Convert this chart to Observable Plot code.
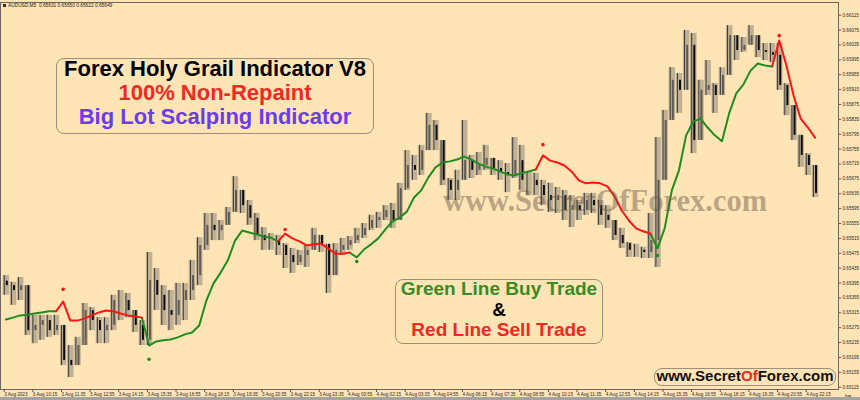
<!DOCTYPE html>
<html>
<head>
<meta charset="utf-8">
<script src="https://cdn.jsdelivr.net/npm/d3@7"></script>
<script src="https://cdn.jsdelivr.net/npm/@observablehq/plot@0.6"></script>
<style>
html,body{margin:0;padding:0;background:#FFE4B5;}
#wrap{position:relative;width:860px;height:400px;overflow:hidden;background:#FFE4B5;font-family:"Liberation Sans",Arial,sans-serif;}
#wrap svg{position:absolute;left:0;top:0;}
.ov{position:absolute;white-space:nowrap;}
.box{position:absolute;border:1px solid #9c8f7b;border-radius:8px;box-sizing:border-box;}
.lines{position:absolute;text-align:center;font-weight:bold;white-space:nowrap;}
</style>
</head>
<body>
<div id="wrap"></div>
<script>
// ---------- data ----------
const symbolHeader = "AUDUSD,M5  0.65631 0.65650 0.65622 0.65649";
const timeLabels = ["3 Aug 2023","3 Aug 10:15","3 Aug 11:35","3 Aug 12:55","3 Aug 14:15","3 Aug 15:35","3 Aug 16:55","3 Aug 18:15","3 Aug 19:35","3 Aug 20:55","3 Aug 22:15","3 Aug 23:35","4 Aug 00:55","4 Aug 02:15","4 Aug 03:35","4 Aug 04:55","4 Aug 06:15","4 Aug 07:35","4 Aug 08:55","4 Aug 10:15","4 Aug 11:35","4 Aug 12:55","4 Aug 14:15","4 Aug 15:35","4 Aug 16:55","4 Aug 18:15","4 Aug 19:35","4 Aug 20:55","4 Aug 22:15"];
const barsPerLabel = 16;   // M5 bars between time labels
const barsPerCandle = 4;   // each drawn candle groups 4 M5 bars
const priceTicks = [0.66115,0.66075,0.66035,0.65995,0.65955,0.65915,0.65875,0.65835,0.65795,0.65755,0.65715,0.65675,0.65635,0.65595,0.65555,0.65515,0.65475,0.65435,0.65395,0.65355,0.65315,0.65275,0.65235,0.65195,0.65155,0.65115];

const firstOpen = 0.65400;
const highs = [0.65415,0.65397,0.65410,0.65348,0.65308,0.65308,0.65308,0.65308,0.65254,0.65227,
0.65249,0.65340,0.65329,0.65302,0.65302,0.65362,0.65375,0.65367,0.65313,0.65294,
0.65477,0.65434,0.65388,0.65375,0.65394,0.65394,0.65456,0.65517,0.65582,0.65582,
0.65563,0.65598,0.65681,0.65644,0.65617,0.65582,0.65544,0.65528,0.65523,0.65501,
0.65488,0.65483,0.65496,0.65542,0.65520,0.65496,0.65501,0.65515,0.65520,0.65542,
0.65555,0.65577,0.65585,0.65603,0.65609,0.65663,0.65751,0.65738,0.65765,0.65851,
0.65832,0.65770,0.65676,0.65698,0.65832,0.65738,0.65746,0.65765,0.65730,0.65724,
0.65716,0.65786,0.65765,0.65692,0.65690,0.65671,0.65663,0.65652,0.65644,0.65630,
0.65617,0.65636,0.65636,0.65617,0.65603,0.65563,0.65542,0.65504,0.65499,0.65491,
0.65582,0.65786,0.65859,0.65974,0.65958,0.66074,0.66066,0.65940,0.65993,0.65931,
0.65974,0.66087,0.66055,0.66055,0.66087,0.66055,0.66039,0.66039,0.66039,0.65931,
0.65859,0.65778,0.65743,0.65684];
const lows = [0.65362,0.65335,0.65348,0.65254,0.65232,0.65241,0.65249,0.65254,0.65173,0.65141,
0.65195,0.65276,0.65267,0.65232,0.65232,0.65267,0.65294,0.65302,0.65262,0.65227,
0.65227,0.65321,0.65281,0.65267,0.65281,0.65294,0.65348,0.65388,0.65483,0.65509,
0.65509,0.65550,0.65590,0.65582,0.65550,0.65509,0.65483,0.65483,0.65469,0.65434,
0.65421,0.65442,0.65437,0.65483,0.65477,0.65367,0.65429,0.65469,0.65483,0.65501,
0.65515,0.65536,0.65542,0.65563,0.65542,0.65571,0.65644,0.65671,0.65684,0.65765,
0.65751,0.65657,0.65617,0.65617,0.65684,0.65676,0.65684,0.65698,0.65684,0.65671,
0.65638,0.65676,0.65644,0.65630,0.65630,0.65603,0.65585,0.65582,0.65563,0.65544,
0.65563,0.65577,0.65582,0.65550,0.65542,0.65509,0.65488,0.65464,0.65464,0.65461,
0.65461,0.65437,0.65724,0.65845,0.65851,0.65966,0.65743,0.65832,0.65899,0.65851,
0.65905,0.66020,0.65993,0.66015,0.66034,0.66001,0.65993,0.65988,0.65913,0.65845,
0.65778,0.65706,0.65684,0.65625];
const closes = [0.65388,0.65375,0.65388,0.65267,0.65281,0.65294,0.65267,0.65281,0.65187,0.65173,
0.65227,0.65321,0.65294,0.65267,0.65281,0.65348,0.65348,0.65321,0.65281,0.65241,
0.65402,0.65362,0.65321,0.65308,0.65348,0.65375,0.65415,0.65496,0.65550,0.65536,
0.65550,0.65585,0.65644,0.65603,0.65569,0.65523,0.65509,0.65509,0.65496,0.65469,
0.65450,0.65469,0.65483,0.65523,0.65499,0.65415,0.65483,0.65496,0.65509,0.65523,
0.65542,0.65563,0.65571,0.65590,0.65563,0.65649,0.65711,0.65698,0.65751,0.65819,
0.65778,0.65671,0.65644,0.65671,0.65724,0.65698,0.65711,0.65730,0.65703,0.65692,
0.65684,0.65724,0.65671,0.65671,0.65657,0.65630,0.65617,0.65630,0.65590,0.65603,
0.65590,0.65617,0.65603,0.65577,0.65563,0.65523,0.65501,0.65483,0.65483,0.65477,
0.65509,0.65671,0.65832,0.65940,0.65913,0.66034,0.65778,0.65913,0.65926,0.65899,
0.65953,0.66060,0.66020,0.66034,0.66060,0.66020,0.66015,0.66007,0.65926,0.65872,
0.65792,0.65738,0.65711,0.65636];

const indicator = [0.65297,0.65302,0.65308,0.65310,0.65313,0.65316,0.65319,0.65319,0.65345,0.65294,
0.65294,0.65300,0.65308,0.65316,0.65321,0.65319,0.65313,0.65308,0.65305,0.65302,
0.65227,0.65238,0.65241,0.65243,0.65249,0.65257,0.65262,0.65281,0.65348,0.65394,
0.65423,0.65456,0.65509,0.65536,0.65531,0.65526,0.65520,0.65517,0.65507,0.65528,
0.65515,0.65507,0.65496,0.65499,0.65501,0.65488,0.65474,0.65474,0.65477,0.65464,
0.65485,0.65499,0.65515,0.65539,0.65561,0.65571,0.65587,0.65625,0.65644,0.65679,
0.65706,0.65719,0.65722,0.65727,0.65735,0.65727,0.65716,0.65708,0.65703,0.65695,
0.65687,0.65684,0.65690,0.65695,0.65700,0.65738,0.65724,0.65719,0.65711,0.65695,
0.65671,0.65663,0.65665,0.65663,0.65655,0.65628,0.65590,0.65563,0.65542,0.65534,
0.65528,0.65488,0.65542,0.65644,0.65698,0.65792,0.65829,0.65837,0.65813,0.65792,
0.65776,0.65851,0.65905,0.65929,0.65966,0.65985,0.65980,0.65977,0.66047,0.65980,
0.65899,0.65837,0.65813,0.65786];

const initialTrend = "buy";
const signalCandle = [8, 20, 39, 49, 75, 91, 108];
const signalType = ["sell","buy","sell","buy","sell","buy","sell"];
const signalPrice = [0.65378, 0.65190, 0.65539, 0.65453, 0.65767, 0.65469, 0.66060];

// ---------- build ----------
const GREEN = "#1e8c1e", RED = "#ff1414";
const center = k => barsPerCandle * k + (barsPerCandle - 1) / 2;

const candles = closes.map((c, k) => {
  const open = k === 0 ? firstOpen : closes[k - 1];
  return {bar: center(k), open, close: c,
    high: Math.max(highs[k], open, c), low: Math.min(lows[k], open, c), up: c >= open};
});

const trend = [];
let cur = initialTrend;
for (let k = 0; k < indicator.length; k++) {
  const s = signalCandle.indexOf(k);
  if (s >= 0) cur = signalType[s];
  trend.push(cur);
}
const linePts = [];
let seg = 0;
for (let k = 0; k < indicator.length; k++) {
  if (k > 0 && trend[k] !== trend[k - 1]) {
    seg++;
    linePts.push({bar: center(k - 1), v: indicator[k - 1], seg, t: trend[k]});
  }
  linePts.push({bar: center(k), v: indicator[k], seg, t: trend[k]});
}
const signals = signalCandle.map((k, i) => ({bar: center(k), price: signalPrice[i], t: signalType[i]}));
const tickBars = timeLabels.map((_, i) => i * barsPerLabel);

const chart = Plot.plot({
  width: 860, height: 400,
  marginLeft: 0, marginRight: 22, marginTop: 2, marginBottom: 11,
  style: {background: "transparent", fontFamily: "Liberation Sans, Arial, sans-serif", color: "#2a2a2a", overflow: "visible"},
  x: {domain: [-1.5, 466.6], axis: null},
  y: {domain: [0.651088, 0.661491], axis: null},
  marks: [
    // range band of the grouped bars (gray), then wick and body
    Plot.ruleX(candles, {x: "bar", y1: "low", y2: "high", stroke: "#8e8778", strokeOpacity: 0.55, strokeWidth: 6.5}),
    Plot.ruleX(candles, {x: "bar", y1: "low", y2: "high", stroke: "#3a3a3a", strokeWidth: 1, dx: -1.6}),
    Plot.ruleX(candles.filter(d => d.up), {x: "bar", y1: "open", y2: "close", stroke: "#5e5a52", strokeWidth: 2, dx: 1}),
    Plot.ruleX(candles.filter(d => !d.up), {x: "bar", y1: "open", y2: "close", stroke: "#0c0c0c", strokeWidth: 2, dx: 1}),
    Plot.line(linePts.filter(d => d.t === "buy"), {x: "bar", y: "v", z: "seg", stroke: GREEN, strokeWidth: 2}),
    Plot.line(linePts.filter(d => d.t === "sell"), {x: "bar", y: "v", z: "seg", stroke: RED, strokeWidth: 2}),
    Plot.dot(signals, {x: "bar", y: "price", r: 1.8, fill: d => d.t === "buy" ? GREEN : RED, stroke: null}),
    Plot.frame({stroke: "#6f675a"}),
    Plot.axisY({anchor: "right", ticks: priceTicks, tickFormat: d => d.toFixed(5), tickSize: 2, tickPadding: 2, fontSize: 4.6, stroke: "#555"}),
    Plot.axisX({ticks: tickBars, tickFormat: d => timeLabels[Math.round(d / barsPerLabel)], tickSize: 3, tickPadding: 0, textAnchor: "start", dx: 1, fontSize: 4.6, stroke: "#555"})
  ]
});

const wrap = document.getElementById("wrap");
wrap.appendChild(chart);

function addDiv(cls, style, html) {
  const d = document.createElement("div");
  d.className = cls;
  d.setAttribute("style", style);
  if (html != null) d.innerHTML = html;
  wrap.appendChild(d);
  return d;
}
// header
addDiv("ov", "left:3px;top:4px;width:3px;height:3px;background:#333;");
addDiv("ov", "left:8px;top:2px;font-size:4.8px;line-height:7px;color:#222;", symbolHeader.replace(/ /g, "&nbsp;"));
// watermark
addDiv("ov", "left:443px;top:186px;font-family:'Liberation Serif','Times New Roman',serif;font-weight:bold;font-size:30.5px;line-height:30px;color:rgba(95,85,70,0.45);", "www.SecretOfForex.com");
// box 1
addDiv("box", "left:56px;top:58px;width:318px;height:76px;");
addDiv("lines", "left:56px;top:57px;width:318px;font-size:22px;line-height:24px;",
  '<div style="color:#000">Forex Holy Grail Indicator V8</div><div style="color:#ee2a24">100% Non-Repaint</div><div style="color:#6a3cec">Big Lot Scalping Indicator</div>');
// box 2
addDiv("box", "left:395px;top:279px;width:208px;height:65px;");
addDiv("lines", "left:395px;top:279px;width:208px;font-size:19px;line-height:20.5px;",
  '<div style="color:#378c28">Green Line Buy Trade</div><div style="color:#000">&amp;</div><div style="color:#ee2a24">Red Line Sell Trade</div>');
// box 3
addDiv("box", "left:654px;top:368px;width:182px;height:18px;");
addDiv("lines", "left:654px;top:367px;width:182px;font-size:15px;line-height:18px;color:#111;",
  'www.Secret<span style="color:#ee2a24">Of</span>Forex.com');
// bottom window band
addDiv("ov", "left:0;top:397px;width:860px;height:3px;background:#a3a3a3;");
</script>
</body>
</html>
